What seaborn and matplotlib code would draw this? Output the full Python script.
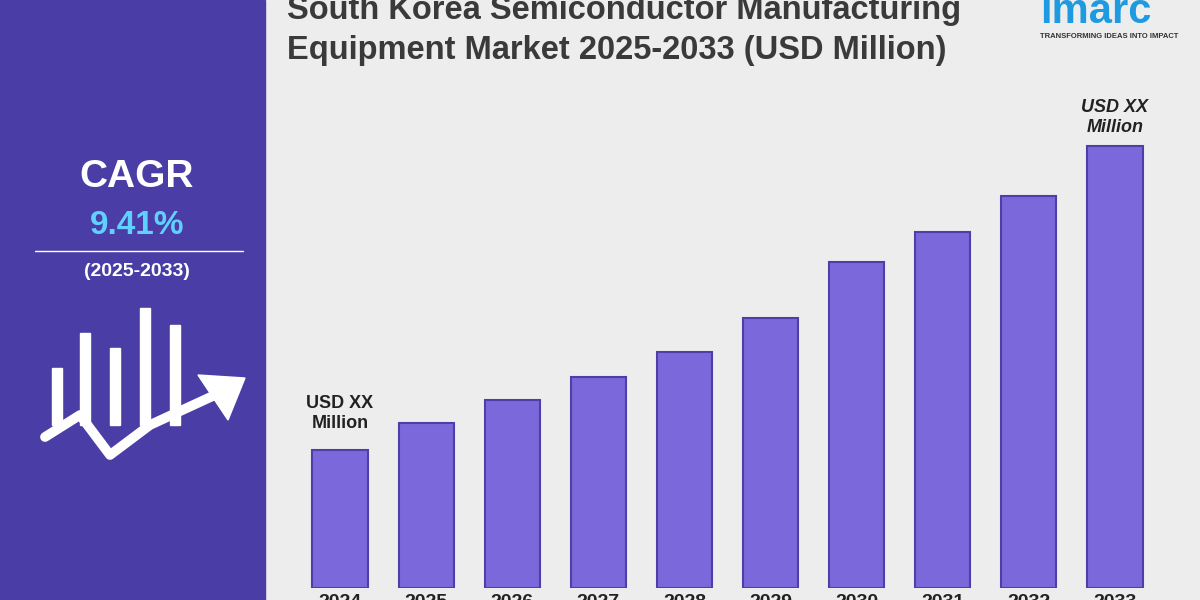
import matplotlib
matplotlib.use("Agg")
import matplotlib.pyplot as plt
import seaborn as sns
import pandas as pd
from matplotlib.patches import Rectangle

years = ["2024","2025","2026","2027","2028","2029","2030","2031","2032","2033"]
values = [138,165,188,211,236,270,326,356,392,442]
df = pd.DataFrame({"year": years, "value": values})

sns.set_theme(style="white")
plt.rcParams['font.family'] = ['Liberation Sans', 'DejaVu Sans']
fig = plt.figure(figsize=(12, 6), dpi=100)
fig.patch.set_facecolor("#EDEDED")

# left panel
fig.patches.append(Rectangle((0, 0), 265/1200, 1, transform=fig.transFigure, color="#4A3DA6", zorder=0))
fig.text(137/1200, 1-177/600, "CAGR", color="white", fontsize=28, fontweight="bold", ha="center", va="center")
fig.text(137/1200, 1-225/600, "9.41%", color="#5FD0FF", fontsize=24, fontweight="bold", ha="center", va="center")
fig.lines.append(plt.Line2D([35/1200, 243/1200], [1-251/600]*2, transform=fig.transFigure, color="white", lw=1))
fig.text(137/1200, 1-271/600, "(2025-2033)", color="white", fontsize=14, fontweight="bold", ha="center", va="center")
for x, top in [(52, 368), (80, 333), (110, 348), (140, 308), (170, 325)]:
    fig.patches.append(Rectangle((x/1200, 1-425/600), 10/1200, (425-top)/600, transform=fig.transFigure, color="white"))
fig.lines.append(plt.Line2D([45/1200, 80/1200, 110/1200, 150/1200, 215/1200],
                            [1-437/600, 1-415/600, 1-455/600, 1-425/600, 1-395/600],
                            transform=fig.transFigure, color="white", lw=7, solid_capstyle="round"))
fig.patches.append(plt.Polygon([(245/1200, 1-378/600), (198/1200, 1-375/600), (228/1200, 1-420/600)],
                               transform=fig.transFigure, color="white"))

# title
fig.text(287/1200, 1-10/600, "South Korea Semiconductor Manufacturing", fontsize=23.5, fontweight="bold", color="#3A3A3A", va="center")
fig.text(287/1200, 1-50/600, "Equipment Market 2025-2033 (USD Million)", fontsize=23.5, fontweight="bold", color="#3A3A3A", va="center")
fig.text(1040/1200, 1-12/600, "imarc", fontsize=30, fontweight="bold", color="#1E9BE0", va="center")
fig.text(1040/1200, 1-36/600, "TRANSFORMING IDEAS INTO IMPACT", fontsize=5.5, fontweight="bold", color="#333333", va="center")

ax = fig.add_axes([297/1200, 12/600, 861/1200, 460/600])
ax.set_facecolor("none")
sns.barplot(data=df, x="year", y="value", color="#7B68DA", width=0.64, saturation=1,
            edgecolor="#4E3FA8", linewidth=1.5, ax=ax)
ax.set_ylim(0, 460)
ax.set_xlim(-0.5, 9.5)
ax.set_xlabel(""); ax.set_ylabel("")
ax.set_yticks([])
ax.tick_params(axis="x", length=0, pad=4, labelsize=14)
for t in ax.get_xticklabels():
    t.set_fontweight("bold"); t.set_color("#222222")
for s in ax.spines.values():
    s.set_visible(False)
ax.text(0, values[0] + 18, "USD XX\nMillion", ha="center", va="bottom", fontsize=13, fontweight="bold", color="#222222")
ax.text(9, values[-1] + 10, "USD XX\nMillion", ha="center", va="bottom", fontsize=13, fontweight="bold", style="italic", color="#222222")

fig.savefig("out.png", dpi=100, facecolor=fig.get_facecolor())
